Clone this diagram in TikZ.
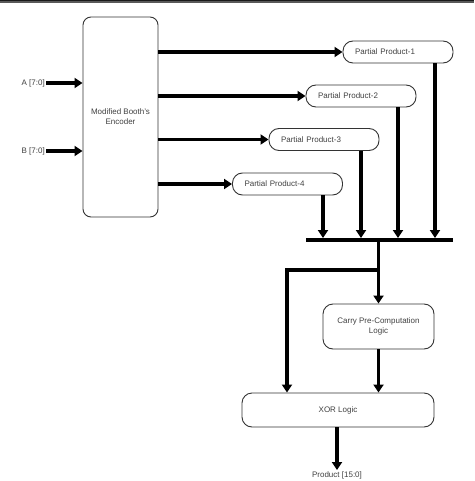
\documentclass[tikz,border=0pt]{standalone}
\usepackage{fontspec}
\setmainfont{Liberation Sans}
\usetikzlibrary{arrows.meta}
\begin{document}
\begin{tikzpicture}[x=1pt,y=-1pt,
  box/.style={draw=black!80, line width=0.9pt, rounded corners=8pt, text=black!75, font=\fontsize{8}{10}\selectfont, align=center, inner sep=0pt},
  ppbox/.style={draw=black!80, line width=0.9pt, rounded corners=10pt, text=black!75, font=\fontsize{8}{10}\selectfont, align=left, text width=86pt, inner xsep=12pt, minimum height=22pt, inner ysep=0pt},
  lbl/.style={text=black!75, font=\fontsize{8}{10}\selectfont, inner sep=1pt},
  bus/.style={line width=3.6pt, -{Triangle[length=8pt,width=10pt]}},
  wire/.style={line width=3.6pt}]
\useasboundingbox (0,0) rectangle (474,481);
\fill[black!65] (0,0) rectangle (474,3);
\fill[black!90] (0,0) rectangle (474,1);
% encoder
\node[box, minimum width=75pt, minimum height=200pt] (enc) at (120.5,117) {Modified Booth's\\Encoder};
\node[lbl, anchor=east] (a) at (46,83) {A [7:0]};
\node[lbl, anchor=east] (b) at (46,151) {B [7:0]};
\draw[bus] (a.east) -- (a.east -| enc.west);
\draw[bus] (b.east) -- (b.east -| enc.west);
% partial products
\node[ppbox] (pp1) at (398,52) {Partial Product-1};
\node[ppbox] (pp2) at (361,96) {Partial Product-2};
\node[ppbox] (pp3) at (324,139.5) {Partial Product-3};
\node[ppbox] (pp4) at (287.5,184) {Partial Product-4};
\foreach \i in {1,2,3,4} {
  \draw[bus] (enc.east |- pp\i.west) -- (pp\i.west);
}
% bus
\coordinate (busL) at (306,240);
\coordinate (busR) at (453,240);
\draw[line width=4.2pt] (busL) -- (busR);
\coordinate (d1) at (435,238);
\coordinate (d2) at (398,238);
\coordinate (d3) at (361,238);
\coordinate (d4) at (323,238);
\foreach \i in {1,2,3,4} {
  \draw[bus] (d\i |- pp\i.south) -- (d\i);
}
% carry and xor
\node[box, minimum width=111pt, minimum height=45pt, rounded corners=10pt] (carry) at (378.5,326.5) {Carry Pre-Computation\\Logic};
\node[box, minimum width=192pt, minimum height=34pt, rounded corners=10pt] (xor) at (338,410) {XOR Logic};
\node[lbl, anchor=north] (prod) at (337,470) {Product [15:0]};
\coordinate (stem) at (378.5,240);
\coordinate (br) at (378.5,270);
\coordinate (brL) at (287,270);
\draw[bus] (stem) -- (carry.north);
\draw[bus, rounded corners=0pt] (br) -- (brL) -- (brL |- xor.north);
\draw[bus] (carry.south) -- (carry.south |- xor.north);
\draw[bus] (xor.south -| prod.north) -- (prod.north);
\end{tikzpicture}
\end{document}
